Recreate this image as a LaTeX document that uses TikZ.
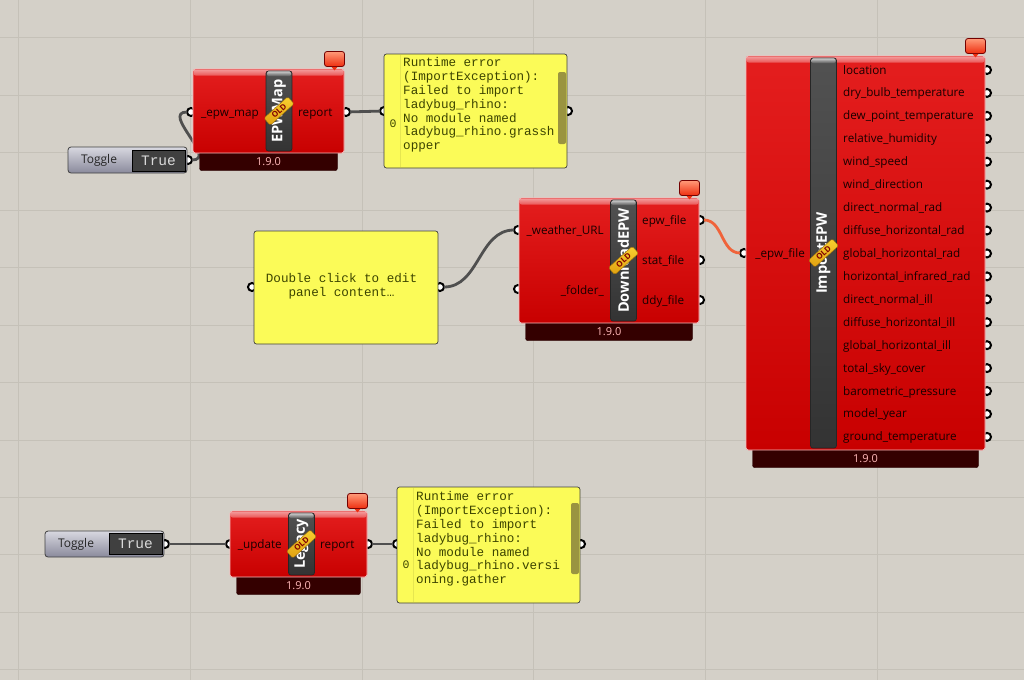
\documentclass[tikz,border=0pt]{standalone}
\usepackage{fontspec}
\usepackage{xcolor}
\setmainfont{Open Sans}
\newfontfamily\panelfont{Liberation Mono}
\usetikzlibrary{shapes.geometric}
\usetikzlibrary{arrows.meta,arrows}
\definecolor{canvasbg}{HTML}{D4D0C8}
\definecolor{gridline}{HTML}{C5C1B8}
\definecolor{redtop}{HTML}{E41E1E}
\definecolor{redlow}{HTML}{C80000}
\definecolor{footdark}{HTML}{340000}
\definecolor{wiregrey}{HTML}{4F4F4F}
\definecolor{wireorange}{HTML}{F0633A}
\definecolor{panelyellow}{HTML}{FBFB58}
\definecolor{panelgutter}{HTML}{E6E650}
\definecolor{paneltext}{HTML}{3C4400}
\definecolor{scrollolive}{HTML}{9A9440}
\definecolor{badgetop}{HTML}{F8D030}
\definecolor{badgelow}{HTML}{E0A010}
\definecolor{msgtop}{HTML}{FF9A78}
\definecolor{msglow}{HTML}{EE2E10}
\definecolor{togtop}{HTML}{D8D8E0}
\definecolor{toglow}{HTML}{8A8A9C}
\tikzset{
  port/.style={circle,draw=black,fill=white,line width=2pt,minimum size=8pt,inner sep=0pt,outer sep=0pt},
  wire/.style={draw=wiregrey,line width=2.8pt},
  redbody/.style={draw=white!75!redlow,line width=0.7pt,rounded corners=2.5pt,top color=redtop,bottom color=redlow,inner sep=0pt,outer sep=0pt},
  redgloss/.style={rounded corners=2pt,top color=white!55!redtop,bottom color=white!25!redtop,inner sep=0pt,outer sep=0pt,minimum height=6pt},
  footbar/.style={draw=footdark!70!black,fill=footdark,rounded corners=2.5pt,inner sep=0pt,minimum height=22.5pt},
  vertext/.style={text=white!72!red,font=\fontsize{11}{12}\selectfont,inner sep=0pt},
  titlebar/.style={draw=black!85,line width=0.7pt,top color=black!68,bottom color=black!80,rounded corners=2.5pt,minimum width=26pt,inner sep=0pt},
  bargloss/.style={top color=black!20,bottom color=black!68,rounded corners=1.5pt,minimum width=24pt,minimum height=5pt,inner sep=0pt},
  titletext/.style={rotate=90,text=white,font=\fontsize{14.6}{16}\selectfont\bfseries,inner sep=0pt},
  oldbadge/.style={rotate=42,draw=badgelow!70!black,line width=0.4pt,top color=badgetop,bottom color=badgelow,rounded corners=1.5pt,minimum width=32pt,minimum height=9.5pt,inner sep=0pt,text=red!50!black,font=\fontsize{8}{8}\selectfont\bfseries},
  msgbubble/.style={draw=red!45!black,line width=0.8pt,top color=msgtop,bottom color=msglow,rounded corners=2.5pt,minimum width=20pt,minimum height=15pt,inner sep=0pt},
  lblleft/.style={anchor=west,yshift=-1.5pt,inner sep=0pt,text=black!90!red,text height=8pt,text depth=3pt,font=\fontsize{11.7}{13}\selectfont},
  lblright/.style={lblleft,anchor=east},
  panelbox/.style={draw=black!75,line width=0.7pt,fill=panelyellow,rounded corners=2.5pt,inner sep=0pt,outer sep=0pt},
  paneltxt/.style={inner sep=0pt,text=paneltext,align=left,anchor=north west,font=\panelfont\fontsize{12.6}{13.8}\selectfont},
  togglebody/.style={draw=black!75,line width=0.8pt,top color=togtop,bottom color=toglow,rounded corners=3pt,minimum width=119pt,minimum height=26pt,inner sep=0pt},
  togglebox/.style={draw=black,fill=black!75,minimum width=53pt,minimum height=20.5pt,inner sep=0pt,text=black!15,font=\panelfont\fontsize{14.5}{16}\selectfont},
  toggletxt/.style={inner sep=0pt,text=black!85,font=\fontsize{12}{13}\selectfont},
}
% name, centre x, centre y, width, height, title bar x, title
\newcommand{\redcomp}[7]{
  \node[redbody,minimum width=#4pt,minimum height=#5pt] (#1) at (#2,#3) {};
  \node[footbar,minimum width=#4pt-13pt,anchor=north] (#1foot) at ([yshift=5pt]#1.south) {};
  \node[redbody,minimum width=#4pt,minimum height=#5pt] (#1top) at (#2,#3) {};
  \node[redgloss,minimum width=#4pt-1pt,anchor=north] (#1gloss) at ([yshift=-0.5pt]#1.north) {};
  \node[vertext] (#1ver) at ([yshift=-9pt]#1.south) {1.9.0};
  \node[titlebar,minimum height=#5pt-4pt] (#1bar) at (#6,#3) {};
  \node[bargloss,anchor=north] (#1barg) at ([yshift=-0.5pt]#1bar.north) {};
  \node[titletext] (#1title) at (#6,#3) {#7};
  \node[oldbadge] (#1old) at (#6,#3) {OLD};
  \node[msgbubble] (#1msg) at ([shift={(-9.5pt,10pt)}]#1.north east) {};
  \fill[msglow] ([xshift=-3pt]#1msg.south) -- ([xshift=3pt]#1msg.south) -- ([yshift=-3.5pt]#1msg.south) -- cycle;
}
\newcommand{\epwoutputs}{location,dry\_bulb\_temperature,dew\_point\_temperature,relative\_humidity,wind\_speed,wind\_direction,direct\_normal\_rad,diffuse\_horizontal\_rad,global\_horizontal\_rad,horizontal\_infrared\_rad,direct\_normal\_ill,diffuse\_horizontal\_ill,global\_horizontal\_ill,total\_sky\_cover,barometric\_pressure,model\_year,ground\_temperature}
\begin{document}
\begin{tikzpicture}[x=1pt,y=-1pt]
\useasboundingbox (0,0) rectangle (1024,680);
\fill[canvasbg] (0,0) rectangle (1024,680);
% Grid
\foreach \gx in {18,190,362,533,705,877} \draw[gridline,line width=0.8pt] (\gx,0) -- (\gx,680);
\foreach \gy in {37,95,152,210,267,325,382,440,497,554,612,669} \draw[gridline,line width=0.8pt] (0,\gy) -- (1024,\gy);
% Ports
\node[port] (togaout) at (188,160) {};
\node[port] (togbout) at (165,544) {};
\node[port] (mapin) at (191,112) {};
\node[port] (mapout) at (346,112) {};
\node[port] (errain) at (384,111) {};
\node[port] (eraout) at (568,111) {};
\node[port] (editin) at (252,287) {};
\node[port] (editout) at (440,287) {};
\node[port] (urlin) at (518,230) {};
\node[port] (folderin) at (518,289) {};
\node[port] (epwout) at (700,220) {};
\node[port] (statout) at (700,260) {};
\node[port] (ddyout) at (700,300) {};
\node[port] (importin) at (744,253) {};
\foreach \lbl [count=\i from 0] in \epwoutputs {
  \pgfmathsetmacro{\py}{70+22.93*\i}
  \node[port] (importout\i) at (987,\py) {};
}
\node[port] (updatein) at (230,544) {};
\node[port] (legout) at (368,544) {};
\node[port] (errbin) at (397,544) {};
\node[port] (errbout) at (581,544) {};
% Wires
\draw[wire] (togaout.east) to [out=0,in=180,looseness=1.4] (mapin.west);
\draw[wire] (mapout) -- (errain);
\draw[wire] (editout.east) to [out=0,in=180] (urlin.west);
\draw[wire,draw=wireorange] (epwout.east) to [out=0,in=180] (importin.west);
\draw[wire] (togbout) -- (updatein);
\draw[wire] (legout) -- (errbin);
% Components
\redcomp{epwmap}{268.5}{111}{151}{84}{279}{EPWMap}
\redcomp{download}{609}{260.5}{180}{125}{623.5}{DownloadEPW}
\redcomp{import}{865.5}{253}{239}{394}{823.5}{ImportEPW}
\redcomp{legacy}{298.5}{544}{137}{66}{301.5}{Legacy}
% Component labels
\node[lblright] (lblmap) at (259,112) {\_epw\_map};
\node[lblleft] (lblrepa) at (298,112) {report};
\node[lblright] (lblurl) at (604,230) {\_weather\_URL};
\node[lblright] (lblfolder) at (604,290) {\_folder\_};
\node[lblleft] (lblepw) at (642,220) {epw\_file};
\node[lblleft] (lblstat) at (642,260) {stat\_file};
\node[lblleft] (lblddy) at (642,300) {ddy\_file};
\node[lblright] (lblimport) at (805,253) {\_epw\_file};
\foreach \lbl [count=\i from 0] in \epwoutputs {
  \pgfmathsetmacro{\py}{70+22.93*\i}
  \node[lblleft] (lblout\i) at (843,\py) {\lbl};
}
\node[lblright] (lblupdate) at (282,544) {\_update};
\node[lblleft] (lblrepb) at (320,544) {report};
% Toggles
\node[togglebody] (toga) at (127.5,160) {};
\node[togglebox] (togabox) at (158.5,160.5) {True};
\node[toggletxt] (togatxt) at (99,160.5) {Toggle};
\node[togglebody] (togb) at (104.5,544) {};
\node[togglebox] (togbbox) at (135.5,543.5) {True};
\node[toggletxt] (togbtxt) at (76,544) {Toggle};
% Panels
\node[panelbox,minimum width=183pt,minimum height=114pt] (erra) at (475.5,111) {};
\draw[panelgutter,line width=0.8pt] ([xshift=16pt,yshift=-1pt]erra.north west) -- ([xshift=16pt,yshift=1pt]erra.south west);
\node[inner sep=0pt,text=paneltext,font=\panelfont\fontsize{11.5}{13.8}\selectfont] (erranum) at (393,124) {0};
\fill[scrollolive,rounded corners=2pt] (558,72) rectangle (566,144);
\node[paneltxt] (erratxt) at (403,57.5) {Runtime error\\(ImportException):\\Failed to import\\ladybug\_rhino:\\No module named\\ladybug\_rhino.grassh\\opper};
\node[panelbox,minimum width=184pt,minimum height=113pt] (edit) at (346,287.5) {};
\node[paneltxt,anchor=center,align=center] (edittxt) at (341.5,286.5) {Double click to edit\\panel content…};
\node[panelbox,minimum width=183pt,minimum height=116pt] (errb) at (488.5,545) {};
\draw[panelgutter,line width=0.8pt] ([xshift=16pt,yshift=-1pt]errb.north west) -- ([xshift=16pt,yshift=1pt]errb.south west);
\node[inner sep=0pt,text=paneltext,font=\panelfont\fontsize{11.5}{13.8}\selectfont] (errbnum) at (406,565) {0};
\fill[scrollolive,rounded corners=2pt] (571,503) rectangle (579,574);
\node[paneltxt] (errbtxt) at (416,491.5) {Runtime error\\(ImportException):\\Failed to import\\ladybug\_rhino:\\No module named\\ladybug\_rhino.versi\\oning.gather};
\end{tikzpicture}
\end{document}
